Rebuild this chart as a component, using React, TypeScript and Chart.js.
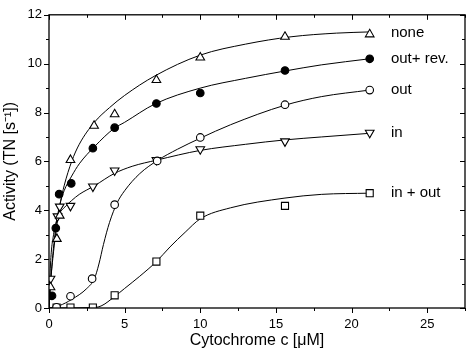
import React, { useEffect, useRef } from "react";
import { Chart, registerables } from "chart.js";

Chart.register(...registerables);

// Measured points
const noneX = [0.1, 0.52, 0.71, 1.42, 2.98, 4.34, 7.1, 10.0, 15.6, 21.2];
const noneY = [0.85, 2.83, 3.78, 6.06, 7.46, 7.93, 9.33, 10.25, 11.1, 11.2];

const outRevX = [0.2, 0.45, 0.67, 1.47, 2.9, 4.34, 7.1, 10.0, 15.6, 21.2];
const outRevY = [0.5, 3.27, 4.66, 5.1, 6.54, 7.38, 8.37, 8.8, 9.72, 10.2];

const outX = [0.5, 1.42, 2.85, 4.34, 7.15, 10.0, 15.6, 21.2];
const outY = [0.03, 0.48, 1.2, 4.23, 6.02, 6.98, 8.32, 8.92];

const inX = [0.1, 0.56, 0.71, 1.42, 2.9, 4.34, 7.1, 10.0, 15.6, 21.2];
const inY = [1.2, 3.75, 4.15, 4.18, 4.97, 5.63, 6.06, 6.5, 6.82, 7.17];

const inOutX = [0.5, 1.42, 2.9, 4.34, 7.1, 10.0, 15.6, 21.2];
const inOutY = [0.02, 0.02, 0.02, 0.52, 1.9, 3.78, 4.18, 4.7];

// Fitted curves
const noneCurveX = [0, 0.1, 0.3, 0.5, 0.75, 1, 1.5, 2, 3, 4, 5, 7, 10, 13, 16, 19, 21.2];
const noneCurveY = [0, 1.0, 2.3, 3.3, 4.3, 5.0, 6.0, 6.7, 7.6, 8.2, 8.7, 9.5, 10.35, 10.8, 11.1, 11.25, 11.3];

const outRevCurveX = [0, 0.2, 0.45, 0.7, 1, 1.5, 2, 3, 4.3, 5, 7, 10, 13, 15.6, 18, 21.2];
const outRevCurveY = [0, 1.8, 3.3, 4.2, 4.8, 5.4, 5.9, 6.6, 7.35, 7.6, 8.35, 9.0, 9.4, 9.7, 9.95, 10.2];

const inCurveX = [0, 0.1, 0.3, 0.6, 1, 1.5, 2, 3, 4.3, 5.5, 7.1, 10, 13, 15.6, 18, 21.2];
const inCurveY = [0, 1.8, 3.0, 3.75, 4.1, 4.4, 4.65, 5.0, 5.5, 5.8, 6.05, 6.45, 6.7, 6.88, 7.0, 7.15];

const outCurveX = [0, 0.7, 1.5, 2.5, 3, 3.3, 3.6, 4, 4.5, 5, 6, 7.2, 8.5, 10, 12, 15.6, 18, 21.2];
const outCurveY = [0, 0.1, 0.35, 0.8, 1.2, 1.8, 2.6, 3.5, 4.3, 4.8, 5.5, 6.05, 6.5, 6.95, 7.5, 8.3, 8.65, 8.92];

const inOutCurveX = [0, 3, 3.5, 4.3, 5, 6, 7.1, 8, 9, 10, 12, 15.6, 18, 21.2];
const inOutCurveY = [0, 0.02, 0.1, 0.45, 0.8, 1.3, 1.9, 2.5, 3.1, 3.65, 4.1, 4.5, 4.65, 4.7];

const seriesLabels = ["none", "out+ rev.", "out", "in", "in + out"];
const seriesLabelY = [11.25, 10.2, 8.92, 7.17, 4.7];
const labelX = 22.6;

const zip = (xs: number[], ys: number[]) => xs.map((x, i) => ({ x, y: ys[i] }));

const FONT = "'Liberation Sans', Arial, sans-serif";

const framePlugin = {
  id: "frameTicks",
  afterDraw(chart: any) {
    const { ctx, chartArea, scales } = chart;
    const { left, right, top, bottom } = chartArea;
    const xs = scales.x;
    const ys = scales.y;
    ctx.save();
    ctx.strokeStyle = "#000";
    ctx.lineWidth = 1.3;
    ctx.strokeRect(left, top, right - left, bottom - top);
    ctx.lineWidth = 1;
    ctx.beginPath();
    xs.ticks.forEach((t: any) => {
      const px = Math.round(xs.getPixelForValue(t.value)) + 0.5;
      const major = Math.abs(t.value % 5) < 1e-6;
      const L = major ? 5 : 3;
      ctx.moveTo(px, bottom);
      ctx.lineTo(px, bottom + L);
      ctx.moveTo(px, top);
      ctx.lineTo(px, top + L);
    });
    ys.ticks.forEach((t: any) => {
      const py = Math.round(ys.getPixelForValue(t.value)) + 0.5;
      const major = Math.abs(t.value % 2) < 1e-6;
      const L = major ? 5 : 3;
      ctx.moveTo(left, py);
      ctx.lineTo(left - L, py);
      ctx.moveTo(right, py);
      ctx.lineTo(right - L, py);
    });
    ctx.stroke();

    ctx.fillStyle = "#000";
    ctx.font = `15px ${FONT}`;
    ctx.textAlign = "left";
    ctx.textBaseline = "middle";
    seriesLabels.forEach((lab, i) => {
      ctx.fillText(lab, xs.getPixelForValue(labelX), ys.getPixelForValue(seriesLabelY[i]));
    });
    ctx.restore();
  },
};

export default function App() {
  const ref = useRef<HTMLCanvasElement | null>(null);

  useEffect(() => {
    document.body.style.margin = "0";
    const canvas = ref.current;
    if (!canvas) return;

    const curve = (xs: number[], ys: number[]) => ({
      type: "line" as const,
      data: zip(xs, ys),
      showLine: true,
      borderColor: "#000",
      borderWidth: 1,
      pointRadius: 0,
      cubicInterpolationMode: "monotone" as const,
      fill: false,
      order: 2,
    });
    const marks = (xs: number[], ys: number[], style: any, filled: boolean, rotation = 0, radius = 4.5) => ({
      type: "scatter" as const,
      data: zip(xs, ys),
      showLine: false,
      pointStyle: style,
      pointRotation: rotation,
      pointRadius: radius,
      pointBorderWidth: 1.1,
      pointBorderColor: "#000",
      pointBackgroundColor: filled ? "#000" : "#fff",
      borderColor: "#000",
      backgroundColor: filled ? "#000" : "#fff",
      order: 1,
    });

    const chart = new Chart(canvas, {
      type: "scatter",
      data: {
        datasets: [
          curve(noneCurveX, noneCurveY),
          curve(outRevCurveX, outRevCurveY),
          curve(outCurveX, outCurveY),
          curve(inCurveX, inCurveY),
          curve(inOutCurveX, inOutCurveY),
          marks(noneX, noneY, "triangle", false, 0, 5),
          marks(outRevX, outRevY, "circle", true, 0, 3.8),
          marks(outX, outY, "circle", false, 0, 3.8),
          marks(inX, inY, "triangle", false, 180, 5),
          marks(inOutX, inOutY, "rect", false, 0, 5),
        ] as any,
      },
      options: {
        responsive: false,
        animation: false,
        layout: { padding: { left: 0, right: 2, top: 6, bottom: 0 } },
        plugins: { legend: { display: false }, tooltip: { enabled: false } },
        scales: {
          x: {
            type: "linear",
            min: 0,
            max: 27.5,
            afterFit: (s: any) => {
              s.height = 53;
            },
            grid: { display: false, drawTicks: false },
            border: { display: false },
            ticks: {
              stepSize: 2.5,
              autoSkip: false,
              maxRotation: 0,
              padding: 9,
              color: "#000",
              font: { family: FONT, size: 13 },
              callback: (v: any) => (Math.abs(Number(v) % 5) < 1e-6 ? String(v) : ""),
            },
            title: {
              display: true,
              text: "Cytochrome c [μM]",
              color: "#000",
              font: { family: FONT, size: 16 },
              padding: { top: 0, bottom: 11 },
            },
          },
          y: {
            type: "linear",
            min: 0,
            max: 12,
            afterFit: (s: any) => {
              s.width = 49;
            },
            grid: { display: false, drawTicks: false },
            border: { display: false },
            ticks: {
              stepSize: 1,
              autoSkip: false,
              padding: 7,
              color: "#000",
              font: { family: FONT, size: 13 },
              callback: (v: any) => (Math.abs(Number(v) % 2) < 1e-6 ? String(v) : ""),
            },
            title: {
              display: true,
              text: "Activity (TN [s⁻¹])",
              color: "#000",
              font: { family: FONT, size: 16 },
              padding: { top: 1, bottom: 0 },
            },
          },
        },
      },
      plugins: [framePlugin],
    });

    return () => chart.destroy();
  }, []);

  return (
    <div style={{ width: 474, height: 361, background: "#fff" }}>
      <canvas ref={ref} width={474} height={361} style={{ display: "block" }} />
    </div>
  );
}
